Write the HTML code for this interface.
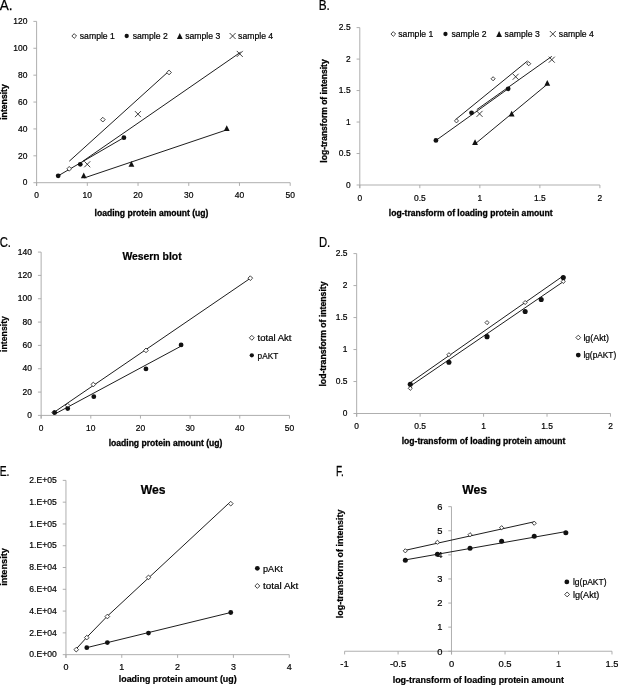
<!DOCTYPE html>
<html lang="en"><head><meta charset="utf-8"><title>Figure</title>
<style>
html,body{margin:0;padding:0;background:#fff;}
svg{display:block;font-family:"Liberation Sans",sans-serif;}
</style></head><body>
<svg width="618" height="685" viewBox="0 0 618 685">
<rect width="618" height="685" fill="#fff"/>
<text transform="translate(-0.30 9.70) scale(0.941 1)" font-size="14.4" fill="#000" stroke="#000" stroke-width="0.25">A.</text>
<line x1="36.60" y1="182.70" x2="290.20" y2="182.70" stroke="#a6a6a6" stroke-width="0.9"/>
<line x1="36.60" y1="185.90" x2="36.60" y2="21.40" stroke="#a6a6a6" stroke-width="0.9"/>
<line x1="36.60" y1="182.70" x2="36.60" y2="185.90" stroke="#a6a6a6" stroke-width="0.9"/>
<text x="36.60" y="198.30" font-size="8.37" text-anchor="middle" fill="#000" stroke="#000" stroke-width="0.2">0</text>
<line x1="87.32" y1="182.70" x2="87.32" y2="185.90" stroke="#a6a6a6" stroke-width="0.9"/>
<text x="87.32" y="198.30" font-size="8.37" text-anchor="middle" textLength="9.43" lengthAdjust="spacingAndGlyphs" fill="#000" stroke="#000" stroke-width="0.2">10</text>
<line x1="138.04" y1="182.70" x2="138.04" y2="185.90" stroke="#a6a6a6" stroke-width="0.9"/>
<text x="138.04" y="198.30" font-size="8.37" text-anchor="middle" textLength="9.43" lengthAdjust="spacingAndGlyphs" fill="#000" stroke="#000" stroke-width="0.2">20</text>
<line x1="188.76" y1="182.70" x2="188.76" y2="185.90" stroke="#a6a6a6" stroke-width="0.9"/>
<text x="188.76" y="198.30" font-size="8.37" text-anchor="middle" textLength="9.43" lengthAdjust="spacingAndGlyphs" fill="#000" stroke="#000" stroke-width="0.2">30</text>
<line x1="239.48" y1="182.70" x2="239.48" y2="185.90" stroke="#a6a6a6" stroke-width="0.9"/>
<text x="239.48" y="198.30" font-size="8.37" text-anchor="middle" textLength="9.43" lengthAdjust="spacingAndGlyphs" fill="#000" stroke="#000" stroke-width="0.2">40</text>
<line x1="290.20" y1="182.70" x2="290.20" y2="185.90" stroke="#a6a6a6" stroke-width="0.9"/>
<text x="290.20" y="198.30" font-size="8.37" text-anchor="middle" textLength="9.43" lengthAdjust="spacingAndGlyphs" fill="#000" stroke="#000" stroke-width="0.2">50</text>
<line x1="33.40" y1="182.70" x2="36.60" y2="182.70" stroke="#a6a6a6" stroke-width="0.9"/>
<text x="27.40" y="185.40" font-size="8.37" text-anchor="end" fill="#000" stroke="#000" stroke-width="0.2">0</text>
<line x1="33.40" y1="155.82" x2="36.60" y2="155.82" stroke="#a6a6a6" stroke-width="0.9"/>
<text x="27.40" y="158.52" font-size="8.37" text-anchor="end" textLength="9.43" lengthAdjust="spacingAndGlyphs" fill="#000" stroke="#000" stroke-width="0.2">20</text>
<line x1="33.40" y1="128.93" x2="36.60" y2="128.93" stroke="#a6a6a6" stroke-width="0.9"/>
<text x="27.40" y="131.63" font-size="8.37" text-anchor="end" textLength="9.43" lengthAdjust="spacingAndGlyphs" fill="#000" stroke="#000" stroke-width="0.2">40</text>
<line x1="33.40" y1="102.05" x2="36.60" y2="102.05" stroke="#a6a6a6" stroke-width="0.9"/>
<text x="27.40" y="104.75" font-size="8.37" text-anchor="end" textLength="9.43" lengthAdjust="spacingAndGlyphs" fill="#000" stroke="#000" stroke-width="0.2">60</text>
<line x1="33.40" y1="75.17" x2="36.60" y2="75.17" stroke="#a6a6a6" stroke-width="0.9"/>
<text x="27.40" y="77.87" font-size="8.37" text-anchor="end" textLength="9.43" lengthAdjust="spacingAndGlyphs" fill="#000" stroke="#000" stroke-width="0.2">80</text>
<line x1="33.40" y1="48.28" x2="36.60" y2="48.28" stroke="#a6a6a6" stroke-width="0.9"/>
<text x="27.40" y="50.98" font-size="8.37" text-anchor="end" textLength="14.14" lengthAdjust="spacingAndGlyphs" fill="#000" stroke="#000" stroke-width="0.2">100</text>
<line x1="33.40" y1="21.40" x2="36.60" y2="21.40" stroke="#a6a6a6" stroke-width="0.9"/>
<text x="27.40" y="24.10" font-size="8.37" text-anchor="end" textLength="14.14" lengthAdjust="spacingAndGlyphs" fill="#000" stroke="#000" stroke-width="0.2">120</text>
<text x="6.60" y="102.00" font-size="8.87" text-anchor="middle" font-weight="bold" transform="rotate(-90 6.60 102.00)" textLength="35.58" lengthAdjust="spacingAndGlyphs" fill="#000" stroke="#000" stroke-width="0.3">intensity</text>
<text x="151.50" y="215.60" font-size="8.78" text-anchor="middle" font-weight="bold" textLength="113.83" lengthAdjust="spacingAndGlyphs" fill="#000" stroke="#000" stroke-width="0.3">loading protein amount (ug)</text>
<path d="M74.20 33.65L76.55 36.00L74.20 38.35L71.85 36.00Z" fill="#fff" stroke="#222" stroke-width="0.85"/>
<text x="79.80" y="39.00" font-size="8.64" textLength="35.08" lengthAdjust="spacingAndGlyphs" fill="#000" stroke="#000" stroke-width="0.2">sample 1</text>
<circle cx="126.70" cy="36.00" r="2.15" fill="#111"/>
<text x="132.70" y="39.00" font-size="8.64" textLength="35.08" lengthAdjust="spacingAndGlyphs" fill="#000" stroke="#000" stroke-width="0.2">sample 2</text>
<path d="M179.80 33.10L182.70 38.90L176.90 38.90Z" fill="#111"/>
<text x="185.20" y="39.00" font-size="8.64" textLength="35.08" lengthAdjust="spacingAndGlyphs" fill="#000" stroke="#000" stroke-width="0.2">sample 3</text>
<path d="M229.60 33.00L235.60 39.00M229.60 39.00L235.60 33.00" fill="none" stroke="#111" stroke-width="0.8"/>
<text x="238.10" y="39.00" font-size="8.64" textLength="35.08" lengthAdjust="spacingAndGlyphs" fill="#000" stroke="#000" stroke-width="0.2">sample 4</text>
<line x1="69.30" y1="161.20" x2="168.30" y2="71.70" stroke="#111" stroke-width="0.95"/>
<line x1="58.20" y1="175.80" x2="123.90" y2="137.60" stroke="#111" stroke-width="0.95"/>
<line x1="84.30" y1="177.90" x2="226.90" y2="129.80" stroke="#111" stroke-width="0.95"/>
<line x1="82.60" y1="161.40" x2="240.60" y2="52.20" stroke="#111" stroke-width="0.95"/>
<path d="M69.22 166.45L71.57 168.80L69.22 171.15L66.87 168.80Z" fill="#fff" stroke="#222" stroke-width="0.85"/>
<path d="M102.83 117.29L105.18 119.64L102.83 121.99L100.48 119.64Z" fill="#fff" stroke="#222" stroke-width="0.85"/>
<path d="M169.05 70.13L171.40 72.48L169.05 74.83L166.70 72.48Z" fill="#fff" stroke="#222" stroke-width="0.85"/>
<circle cx="58.19" cy="175.82" r="2.4" fill="#111"/>
<circle cx="80.26" cy="164.28" r="2.4" fill="#111"/>
<circle cx="123.90" cy="137.70" r="2.4" fill="#111"/>
<path d="M83.77 172.47L86.67 178.27L80.87 178.27Z" fill="#111"/>
<path d="M131.43 160.93L134.33 166.73L128.53 166.73Z" fill="#111"/>
<path d="M226.74 125.32L229.64 131.12L223.84 131.12Z" fill="#111"/>
<path d="M84.28 161.28L90.28 167.28M84.28 167.28L90.28 161.28" fill="none" stroke="#111" stroke-width="0.8"/>
<path d="M134.95 111.12L140.95 117.12M134.95 117.12L140.95 111.12" fill="none" stroke="#111" stroke-width="0.8"/>
<path d="M236.78 50.92L242.78 56.92M236.78 56.92L242.78 50.92" fill="none" stroke="#111" stroke-width="0.8"/>
<text transform="translate(318.70 9.80) scale(0.823 1)" font-size="14.4" fill="#000" stroke="#000" stroke-width="0.25">B.</text>
<line x1="359.80" y1="185.00" x2="599.90" y2="185.00" stroke="#a6a6a6" stroke-width="0.9"/>
<line x1="359.80" y1="188.20" x2="359.80" y2="27.60" stroke="#a6a6a6" stroke-width="0.9"/>
<line x1="359.80" y1="185.00" x2="359.80" y2="188.20" stroke="#a6a6a6" stroke-width="0.9"/>
<text x="359.80" y="200.60" font-size="8.37" text-anchor="middle" fill="#000" stroke="#000" stroke-width="0.2">0</text>
<line x1="419.82" y1="185.00" x2="419.82" y2="188.20" stroke="#a6a6a6" stroke-width="0.9"/>
<text x="419.82" y="200.60" font-size="8.37" text-anchor="middle" textLength="11.77" lengthAdjust="spacingAndGlyphs" fill="#000" stroke="#000" stroke-width="0.2">0.5</text>
<line x1="479.85" y1="185.00" x2="479.85" y2="188.20" stroke="#a6a6a6" stroke-width="0.9"/>
<text x="479.85" y="200.60" font-size="8.37" text-anchor="middle" fill="#000" stroke="#000" stroke-width="0.2">1</text>
<line x1="539.88" y1="185.00" x2="539.88" y2="188.20" stroke="#a6a6a6" stroke-width="0.9"/>
<text x="539.88" y="200.60" font-size="8.37" text-anchor="middle" textLength="11.77" lengthAdjust="spacingAndGlyphs" fill="#000" stroke="#000" stroke-width="0.2">1.5</text>
<line x1="599.90" y1="185.00" x2="599.90" y2="188.20" stroke="#a6a6a6" stroke-width="0.9"/>
<text x="599.90" y="200.60" font-size="8.37" text-anchor="middle" fill="#000" stroke="#000" stroke-width="0.2">2</text>
<line x1="356.60" y1="185.00" x2="359.80" y2="185.00" stroke="#a6a6a6" stroke-width="0.9"/>
<text x="350.60" y="187.70" font-size="8.37" text-anchor="end" fill="#000" stroke="#000" stroke-width="0.2">0</text>
<line x1="356.60" y1="153.52" x2="359.80" y2="153.52" stroke="#a6a6a6" stroke-width="0.9"/>
<text x="350.60" y="156.22" font-size="8.37" text-anchor="end" textLength="11.77" lengthAdjust="spacingAndGlyphs" fill="#000" stroke="#000" stroke-width="0.2">0.5</text>
<line x1="356.60" y1="122.04" x2="359.80" y2="122.04" stroke="#a6a6a6" stroke-width="0.9"/>
<text x="350.60" y="124.74" font-size="8.37" text-anchor="end" fill="#000" stroke="#000" stroke-width="0.2">1</text>
<line x1="356.60" y1="90.56" x2="359.80" y2="90.56" stroke="#a6a6a6" stroke-width="0.9"/>
<text x="350.60" y="93.26" font-size="8.37" text-anchor="end" textLength="11.77" lengthAdjust="spacingAndGlyphs" fill="#000" stroke="#000" stroke-width="0.2">1.5</text>
<line x1="356.60" y1="59.08" x2="359.80" y2="59.08" stroke="#a6a6a6" stroke-width="0.9"/>
<text x="350.60" y="61.78" font-size="8.37" text-anchor="end" fill="#000" stroke="#000" stroke-width="0.2">2</text>
<line x1="356.60" y1="27.60" x2="359.80" y2="27.60" stroke="#a6a6a6" stroke-width="0.9"/>
<text x="350.60" y="30.30" font-size="8.37" text-anchor="end" textLength="11.77" lengthAdjust="spacingAndGlyphs" fill="#000" stroke="#000" stroke-width="0.2">2.5</text>
<text x="326.60" y="111.00" font-size="8.78" text-anchor="middle" font-weight="bold" transform="rotate(-90 326.60 111.00)" textLength="103.26" lengthAdjust="spacingAndGlyphs" fill="#000" stroke="#000" stroke-width="0.3">log-transform of intensity</text>
<text x="470.70" y="215.80" font-size="8.78" text-anchor="middle" font-weight="bold" textLength="163.74" lengthAdjust="spacingAndGlyphs" fill="#000" stroke="#000" stroke-width="0.3">log-transform of loading protein amount</text>
<path d="M393.28 31.65L395.63 34.00L393.28 36.35L390.93 34.00Z" fill="#fff" stroke="#222" stroke-width="0.85"/>
<text x="398.29" y="37.00" font-size="8.64" textLength="35.08" lengthAdjust="spacingAndGlyphs" fill="#000" stroke="#000" stroke-width="0.2">sample 1</text>
<circle cx="445.45" cy="34.00" r="2.15" fill="#111"/>
<text x="451.47" y="37.00" font-size="8.64" textLength="35.08" lengthAdjust="spacingAndGlyphs" fill="#000" stroke="#000" stroke-width="0.2">sample 2</text>
<path d="M499.12 31.10L502.02 36.90L496.22 36.90Z" fill="#111"/>
<text x="504.64" y="37.00" font-size="8.64" textLength="35.08" lengthAdjust="spacingAndGlyphs" fill="#000" stroke="#000" stroke-width="0.2">sample 3</text>
<path d="M549.80 31.00L555.80 37.00M549.80 37.00L555.80 31.00" fill="none" stroke="#111" stroke-width="0.8"/>
<text x="558.82" y="37.00" font-size="8.64" textLength="35.08" lengthAdjust="spacingAndGlyphs" fill="#000" stroke="#000" stroke-width="0.2">sample 4</text>
<line x1="455.80" y1="119.40" x2="527.60" y2="60.90" stroke="#111" stroke-width="0.95"/>
<line x1="435.92" y1="140.46" x2="508.15" y2="88.79" stroke="#111" stroke-width="0.95"/>
<line x1="475.04" y1="143.97" x2="547.28" y2="84.27" stroke="#111" stroke-width="0.95"/>
<line x1="476.80" y1="109.60" x2="551.80" y2="56.40" stroke="#111" stroke-width="0.95"/>
<path d="M456.48 118.84L458.53 120.89L456.48 122.94L454.43 120.89Z" fill="#fff" stroke="#222" stroke-width="0.85"/>
<path d="M493.10 76.71L495.15 78.76L493.10 80.81L491.05 78.76Z" fill="#fff" stroke="#222" stroke-width="0.85"/>
<path d="M528.72 61.66L530.77 63.71L528.72 65.76L526.67 63.71Z" fill="#fff" stroke="#222" stroke-width="0.85"/>
<circle cx="435.92" cy="140.46" r="2.4" fill="#111"/>
<circle cx="471.53" cy="112.87" r="2.4" fill="#111"/>
<circle cx="508.15" cy="88.79" r="2.4" fill="#111"/>
<path d="M475.04 139.26L477.94 145.06L472.14 145.06Z" fill="#111"/>
<path d="M511.66 110.67L514.56 116.47L508.76 116.47Z" fill="#111"/>
<path d="M547.28 80.07L550.18 85.87L544.38 85.87Z" fill="#111"/>
<path d="M476.56 110.87L482.56 116.87M476.56 116.87L482.56 110.87" fill="none" stroke="#111" stroke-width="0.8"/>
<path d="M512.67 73.75L518.67 79.75M512.67 79.75L518.67 73.75" fill="none" stroke="#111" stroke-width="0.8"/>
<path d="M548.79 56.69L554.79 62.69M548.79 62.69L554.79 56.69" fill="none" stroke="#111" stroke-width="0.8"/>
<text transform="translate(-0.30 246.80) scale(0.785 1)" font-size="14.4" fill="#000" stroke="#000" stroke-width="0.25">C.</text>
<line x1="41.13" y1="415.41" x2="289.44" y2="415.41" stroke="#a6a6a6" stroke-width="0.9"/>
<line x1="41.13" y1="418.61" x2="41.13" y2="252.08" stroke="#a6a6a6" stroke-width="0.9"/>
<line x1="41.13" y1="415.41" x2="41.13" y2="418.61" stroke="#a6a6a6" stroke-width="0.9"/>
<text x="41.13" y="431.01" font-size="8.37" text-anchor="middle" fill="#000" stroke="#000" stroke-width="0.2">0</text>
<line x1="90.80" y1="415.41" x2="90.80" y2="418.61" stroke="#a6a6a6" stroke-width="0.9"/>
<text x="90.80" y="431.01" font-size="8.37" text-anchor="middle" textLength="9.43" lengthAdjust="spacingAndGlyphs" fill="#000" stroke="#000" stroke-width="0.2">10</text>
<line x1="140.46" y1="415.41" x2="140.46" y2="418.61" stroke="#a6a6a6" stroke-width="0.9"/>
<text x="140.46" y="431.01" font-size="8.37" text-anchor="middle" textLength="9.43" lengthAdjust="spacingAndGlyphs" fill="#000" stroke="#000" stroke-width="0.2">20</text>
<line x1="190.12" y1="415.41" x2="190.12" y2="418.61" stroke="#a6a6a6" stroke-width="0.9"/>
<text x="190.12" y="431.01" font-size="8.37" text-anchor="middle" textLength="9.43" lengthAdjust="spacingAndGlyphs" fill="#000" stroke="#000" stroke-width="0.2">30</text>
<line x1="239.78" y1="415.41" x2="239.78" y2="418.61" stroke="#a6a6a6" stroke-width="0.9"/>
<text x="239.78" y="431.01" font-size="8.37" text-anchor="middle" textLength="9.43" lengthAdjust="spacingAndGlyphs" fill="#000" stroke="#000" stroke-width="0.2">40</text>
<line x1="289.44" y1="415.41" x2="289.44" y2="418.61" stroke="#a6a6a6" stroke-width="0.9"/>
<text x="289.44" y="431.01" font-size="8.37" text-anchor="middle" textLength="9.43" lengthAdjust="spacingAndGlyphs" fill="#000" stroke="#000" stroke-width="0.2">50</text>
<line x1="37.93" y1="415.41" x2="41.13" y2="415.41" stroke="#a6a6a6" stroke-width="0.9"/>
<text x="31.93" y="418.11" font-size="8.37" text-anchor="end" fill="#000" stroke="#000" stroke-width="0.2">0</text>
<line x1="37.93" y1="392.08" x2="41.13" y2="392.08" stroke="#a6a6a6" stroke-width="0.9"/>
<text x="31.93" y="394.78" font-size="8.37" text-anchor="end" textLength="9.43" lengthAdjust="spacingAndGlyphs" fill="#000" stroke="#000" stroke-width="0.2">20</text>
<line x1="37.93" y1="368.74" x2="41.13" y2="368.74" stroke="#a6a6a6" stroke-width="0.9"/>
<text x="31.93" y="371.44" font-size="8.37" text-anchor="end" textLength="9.43" lengthAdjust="spacingAndGlyphs" fill="#000" stroke="#000" stroke-width="0.2">40</text>
<line x1="37.93" y1="345.41" x2="41.13" y2="345.41" stroke="#a6a6a6" stroke-width="0.9"/>
<text x="31.93" y="348.11" font-size="8.37" text-anchor="end" textLength="9.43" lengthAdjust="spacingAndGlyphs" fill="#000" stroke="#000" stroke-width="0.2">60</text>
<line x1="37.93" y1="322.08" x2="41.13" y2="322.08" stroke="#a6a6a6" stroke-width="0.9"/>
<text x="31.93" y="324.78" font-size="8.37" text-anchor="end" textLength="9.43" lengthAdjust="spacingAndGlyphs" fill="#000" stroke="#000" stroke-width="0.2">80</text>
<line x1="37.93" y1="298.74" x2="41.13" y2="298.74" stroke="#a6a6a6" stroke-width="0.9"/>
<text x="31.93" y="301.44" font-size="8.37" text-anchor="end" textLength="14.14" lengthAdjust="spacingAndGlyphs" fill="#000" stroke="#000" stroke-width="0.2">100</text>
<line x1="37.93" y1="275.41" x2="41.13" y2="275.41" stroke="#a6a6a6" stroke-width="0.9"/>
<text x="31.93" y="278.11" font-size="8.37" text-anchor="end" textLength="14.14" lengthAdjust="spacingAndGlyphs" fill="#000" stroke="#000" stroke-width="0.2">120</text>
<line x1="37.93" y1="252.08" x2="41.13" y2="252.08" stroke="#a6a6a6" stroke-width="0.9"/>
<text x="31.93" y="254.78" font-size="8.37" text-anchor="end" textLength="14.14" lengthAdjust="spacingAndGlyphs" fill="#000" stroke="#000" stroke-width="0.2">140</text>
<text x="7.50" y="333.99" font-size="8.96" text-anchor="middle" font-weight="bold" transform="rotate(-90 7.50 333.99)" textLength="35.94" lengthAdjust="spacingAndGlyphs" fill="#000" stroke="#000" stroke-width="0.22">intensity</text>
<text x="165.54" y="446.11" font-size="8.78" text-anchor="middle" font-weight="bold" textLength="113.83" lengthAdjust="spacingAndGlyphs" fill="#000" stroke="#000" stroke-width="0.3">loading protein amount (ug)</text>
<text x="152.00" y="259.80" font-size="10.53" text-anchor="middle" font-weight="bold" textLength="59.21" lengthAdjust="spacingAndGlyphs" fill="#000" stroke="#000" stroke-width="0.22">Wesern blot</text>
<path d="M251.80 335.35L254.25 337.80L251.80 340.25L249.35 337.80Z" fill="#fff" stroke="#222" stroke-width="0.85"/>
<text x="257.60" y="340.80" font-size="8.78" textLength="33.86" lengthAdjust="spacingAndGlyphs" fill="#000" stroke="#000" stroke-width="0.2">total Akt</text>
<circle cx="251.80" cy="355.30" r="2.15" fill="#111"/>
<text x="257.60" y="358.60" font-size="8.78" textLength="20.58" lengthAdjust="spacingAndGlyphs" fill="#000" stroke="#000" stroke-width="0.2">pAKT</text>
<line x1="54.95" y1="411.70" x2="250.30" y2="278.30" stroke="#111" stroke-width="0.95"/>
<line x1="55.60" y1="413.60" x2="181.10" y2="346.10" stroke="#111" stroke-width="0.95"/>
<path d="M54.18 410.25L56.53 412.60L54.18 414.95L51.83 412.60Z" fill="#fff" stroke="#222" stroke-width="0.85"/>
<path d="M67.72 403.23L70.07 405.58L67.72 407.93L65.37 405.58Z" fill="#fff" stroke="#222" stroke-width="0.85"/>
<path d="M93.30 382.16L95.65 384.51L93.30 386.86L90.95 384.51Z" fill="#fff" stroke="#222" stroke-width="0.85"/>
<path d="M145.97 348.05L148.32 350.40L145.97 352.75L143.62 350.40Z" fill="#fff" stroke="#222" stroke-width="0.85"/>
<path d="M250.31 275.81L252.66 278.16L250.31 280.51L247.96 278.16Z" fill="#fff" stroke="#222" stroke-width="0.85"/>
<circle cx="54.68" cy="412.60" r="2.4" fill="#111"/>
<circle cx="67.72" cy="408.59" r="2.4" fill="#111"/>
<circle cx="93.80" cy="396.70" r="2.4" fill="#111"/>
<circle cx="145.97" cy="368.96" r="2.4" fill="#111"/>
<circle cx="181.09" cy="344.88" r="2.4" fill="#111"/>
<text transform="translate(318.90 246.80) scale(0.785 1)" font-size="14.4" fill="#000" stroke="#000" stroke-width="0.25">D.</text>
<line x1="356.66" y1="413.50" x2="610.48" y2="413.50" stroke="#a6a6a6" stroke-width="0.9"/>
<line x1="356.66" y1="416.70" x2="356.66" y2="253.58" stroke="#a6a6a6" stroke-width="0.9"/>
<line x1="356.66" y1="413.50" x2="356.66" y2="416.70" stroke="#a6a6a6" stroke-width="0.9"/>
<text x="356.66" y="429.10" font-size="8.37" text-anchor="middle" fill="#000" stroke="#000" stroke-width="0.2">0</text>
<line x1="420.11" y1="413.50" x2="420.11" y2="416.70" stroke="#a6a6a6" stroke-width="0.9"/>
<text x="420.11" y="429.10" font-size="8.37" text-anchor="middle" textLength="11.77" lengthAdjust="spacingAndGlyphs" fill="#000" stroke="#000" stroke-width="0.2">0.5</text>
<line x1="483.57" y1="413.50" x2="483.57" y2="416.70" stroke="#a6a6a6" stroke-width="0.9"/>
<text x="483.57" y="429.10" font-size="8.37" text-anchor="middle" fill="#000" stroke="#000" stroke-width="0.2">1</text>
<line x1="547.03" y1="413.50" x2="547.03" y2="416.70" stroke="#a6a6a6" stroke-width="0.9"/>
<text x="547.03" y="429.10" font-size="8.37" text-anchor="middle" textLength="11.77" lengthAdjust="spacingAndGlyphs" fill="#000" stroke="#000" stroke-width="0.2">1.5</text>
<line x1="610.48" y1="413.50" x2="610.48" y2="416.70" stroke="#a6a6a6" stroke-width="0.9"/>
<text x="610.48" y="429.10" font-size="8.37" text-anchor="middle" fill="#000" stroke="#000" stroke-width="0.2">2</text>
<line x1="353.46" y1="413.50" x2="356.66" y2="413.50" stroke="#a6a6a6" stroke-width="0.9"/>
<text x="347.46" y="416.20" font-size="8.37" text-anchor="end" fill="#000" stroke="#000" stroke-width="0.2">0</text>
<line x1="353.46" y1="381.52" x2="356.66" y2="381.52" stroke="#a6a6a6" stroke-width="0.9"/>
<text x="347.46" y="384.22" font-size="8.37" text-anchor="end" textLength="11.77" lengthAdjust="spacingAndGlyphs" fill="#000" stroke="#000" stroke-width="0.2">0.5</text>
<line x1="353.46" y1="349.53" x2="356.66" y2="349.53" stroke="#a6a6a6" stroke-width="0.9"/>
<text x="347.46" y="352.23" font-size="8.37" text-anchor="end" fill="#000" stroke="#000" stroke-width="0.2">1</text>
<line x1="353.46" y1="317.55" x2="356.66" y2="317.55" stroke="#a6a6a6" stroke-width="0.9"/>
<text x="347.46" y="320.25" font-size="8.37" text-anchor="end" textLength="11.77" lengthAdjust="spacingAndGlyphs" fill="#000" stroke="#000" stroke-width="0.2">1.5</text>
<line x1="353.46" y1="285.57" x2="356.66" y2="285.57" stroke="#a6a6a6" stroke-width="0.9"/>
<text x="347.46" y="288.27" font-size="8.37" text-anchor="end" fill="#000" stroke="#000" stroke-width="0.2">2</text>
<line x1="353.46" y1="253.58" x2="356.66" y2="253.58" stroke="#a6a6a6" stroke-width="0.9"/>
<text x="347.46" y="256.28" font-size="8.37" text-anchor="end" textLength="11.77" lengthAdjust="spacingAndGlyphs" fill="#000" stroke="#000" stroke-width="0.2">2.5</text>
<text x="326.20" y="333.99" font-size="8.88" text-anchor="middle" font-weight="bold" transform="rotate(-90 326.20 333.99)" textLength="105.15" lengthAdjust="spacingAndGlyphs" fill="#000" stroke="#000" stroke-width="0.3">lod-transform of intensity</text>
<text x="483.57" y="443.70" font-size="8.78" text-anchor="middle" font-weight="bold" textLength="163.74" lengthAdjust="spacingAndGlyphs" fill="#000" stroke="#000" stroke-width="0.3">log-transform of loading protein amount</text>
<path d="M578.28 335.16L580.68 337.56L578.28 339.96L575.88 337.56Z" fill="#fff" stroke="#222" stroke-width="0.85"/>
<text x="583.40" y="340.76" font-size="8.64" textLength="25.63" lengthAdjust="spacingAndGlyphs" fill="#000" stroke="#000" stroke-width="0.2">lg(Akt)</text>
<circle cx="578.28" cy="355.11" r="2.4" fill="#111"/>
<text x="583.40" y="358.31" font-size="8.64" textLength="32.81" lengthAdjust="spacingAndGlyphs" fill="#000" stroke="#000" stroke-width="0.2">lg(pAKT)</text>
<line x1="411.80" y1="385.10" x2="562.80" y2="282.00" stroke="#111" stroke-width="0.95"/>
<line x1="409.83" y1="383.00" x2="562.83" y2="276.16" stroke="#111" stroke-width="0.95"/>
<path d="M410.28 386.27L412.33 388.32L410.28 390.37L408.23 388.32Z" fill="#fff" stroke="#222" stroke-width="0.85"/>
<path d="M448.91 352.66L450.96 354.71L448.91 356.76L446.86 354.71Z" fill="#fff" stroke="#222" stroke-width="0.85"/>
<path d="M487.03 320.56L489.08 322.61L487.03 324.66L484.98 322.61Z" fill="#fff" stroke="#222" stroke-width="0.85"/>
<path d="M525.15 300.49L527.20 302.54L525.15 304.59L523.10 302.54Z" fill="#fff" stroke="#222" stroke-width="0.85"/>
<path d="M563.28 279.42L565.33 281.47L563.28 283.52L561.23 281.47Z" fill="#fff" stroke="#222" stroke-width="0.85"/>
<circle cx="410.28" cy="384.31" r="2.55" fill="#111"/>
<circle cx="448.91" cy="362.24" r="2.55" fill="#111"/>
<circle cx="487.03" cy="336.65" r="2.55" fill="#111"/>
<circle cx="525.15" cy="311.57" r="2.55" fill="#111"/>
<circle cx="541.21" cy="299.53" r="2.55" fill="#111"/>
<circle cx="563.28" cy="277.46" r="2.55" fill="#111"/>
<text transform="translate(-0.30 475.80) scale(0.713 1)" font-size="14.4" fill="#000" stroke="#000" stroke-width="0.25">E.</text>
<line x1="65.96" y1="654.65" x2="289.24" y2="654.65" stroke="#a6a6a6" stroke-width="0.9"/>
<line x1="65.96" y1="657.85" x2="65.96" y2="480.38" stroke="#a6a6a6" stroke-width="0.9"/>
<line x1="65.96" y1="654.65" x2="65.96" y2="657.85" stroke="#a6a6a6" stroke-width="0.9"/>
<text x="65.96" y="670.25" font-size="8.96" text-anchor="middle" fill="#000" stroke="#000" stroke-width="0.2">0</text>
<line x1="121.78" y1="654.65" x2="121.78" y2="657.85" stroke="#a6a6a6" stroke-width="0.9"/>
<text x="121.78" y="670.25" font-size="8.96" text-anchor="middle" fill="#000" stroke="#000" stroke-width="0.2">1</text>
<line x1="177.60" y1="654.65" x2="177.60" y2="657.85" stroke="#a6a6a6" stroke-width="0.9"/>
<text x="177.60" y="670.25" font-size="8.96" text-anchor="middle" fill="#000" stroke="#000" stroke-width="0.2">2</text>
<line x1="233.42" y1="654.65" x2="233.42" y2="657.85" stroke="#a6a6a6" stroke-width="0.9"/>
<text x="233.42" y="670.25" font-size="8.96" text-anchor="middle" fill="#000" stroke="#000" stroke-width="0.2">3</text>
<line x1="289.24" y1="654.65" x2="289.24" y2="657.85" stroke="#a6a6a6" stroke-width="0.9"/>
<text x="289.24" y="670.25" font-size="8.96" text-anchor="middle" fill="#000" stroke="#000" stroke-width="0.2">4</text>
<line x1="62.76" y1="654.65" x2="65.96" y2="654.65" stroke="#a6a6a6" stroke-width="0.9"/>
<text x="56.76" y="657.35" font-size="8.96" text-anchor="end" textLength="27.46" lengthAdjust="spacingAndGlyphs" fill="#000" stroke="#000" stroke-width="0.2">0.E+00</text>
<line x1="62.76" y1="632.86" x2="65.96" y2="632.86" stroke="#a6a6a6" stroke-width="0.9"/>
<text x="56.76" y="635.56" font-size="8.96" text-anchor="end" textLength="27.46" lengthAdjust="spacingAndGlyphs" fill="#000" stroke="#000" stroke-width="0.2">2.E+04</text>
<line x1="62.76" y1="611.08" x2="65.96" y2="611.08" stroke="#a6a6a6" stroke-width="0.9"/>
<text x="56.76" y="613.78" font-size="8.96" text-anchor="end" textLength="27.46" lengthAdjust="spacingAndGlyphs" fill="#000" stroke="#000" stroke-width="0.2">4.E+04</text>
<line x1="62.76" y1="589.30" x2="65.96" y2="589.30" stroke="#a6a6a6" stroke-width="0.9"/>
<text x="56.76" y="592.00" font-size="8.96" text-anchor="end" textLength="27.46" lengthAdjust="spacingAndGlyphs" fill="#000" stroke="#000" stroke-width="0.2">6.E+04</text>
<line x1="62.76" y1="567.51" x2="65.96" y2="567.51" stroke="#a6a6a6" stroke-width="0.9"/>
<text x="56.76" y="570.21" font-size="8.96" text-anchor="end" textLength="27.46" lengthAdjust="spacingAndGlyphs" fill="#000" stroke="#000" stroke-width="0.2">8.E+04</text>
<line x1="62.76" y1="545.73" x2="65.96" y2="545.73" stroke="#a6a6a6" stroke-width="0.9"/>
<text x="56.76" y="548.43" font-size="8.96" text-anchor="end" textLength="27.46" lengthAdjust="spacingAndGlyphs" fill="#000" stroke="#000" stroke-width="0.2">1.E+05</text>
<line x1="62.76" y1="523.95" x2="65.96" y2="523.95" stroke="#a6a6a6" stroke-width="0.9"/>
<text x="56.76" y="526.65" font-size="8.96" text-anchor="end" textLength="27.46" lengthAdjust="spacingAndGlyphs" fill="#000" stroke="#000" stroke-width="0.2">1.E+05</text>
<line x1="62.76" y1="502.16" x2="65.96" y2="502.16" stroke="#a6a6a6" stroke-width="0.9"/>
<text x="56.76" y="504.86" font-size="8.96" text-anchor="end" textLength="27.46" lengthAdjust="spacingAndGlyphs" fill="#000" stroke="#000" stroke-width="0.2">1.E+05</text>
<line x1="62.76" y1="480.38" x2="65.96" y2="480.38" stroke="#a6a6a6" stroke-width="0.9"/>
<text x="56.76" y="483.08" font-size="8.96" text-anchor="end" textLength="27.46" lengthAdjust="spacingAndGlyphs" fill="#000" stroke="#000" stroke-width="0.2">2.E+05</text>
<text x="7.10" y="567.00" font-size="9.40" text-anchor="middle" font-weight="bold" transform="rotate(-90 7.10 567.00)" textLength="37.75" lengthAdjust="spacingAndGlyphs" fill="#000" stroke="#000" stroke-width="0.22">intensity</text>
<text x="177.70" y="682.00" font-size="9.09" text-anchor="middle" font-weight="bold" textLength="117.92" lengthAdjust="spacingAndGlyphs" fill="#000" stroke="#000" stroke-width="0.22">loading protein amount (ug)</text>
<text x="153.10" y="493.73" font-size="12.60" text-anchor="middle" font-weight="bold" textLength="24.82" lengthAdjust="spacingAndGlyphs" fill="#000" stroke="#000" stroke-width="0.22">Wes</text>
<circle cx="257.34" cy="568.37" r="2.4" fill="#111"/>
<text x="263.05" y="571.67" font-size="9.13" textLength="19.69" lengthAdjust="spacingAndGlyphs" fill="#000" stroke="#000" stroke-width="0.2">pAKt</text>
<path d="M257.34 583.48L259.79 585.93L257.34 588.38L254.89 585.93Z" fill="#fff" stroke="#222" stroke-width="0.85"/>
<text x="263.05" y="589.23" font-size="9.13" textLength="35.25" lengthAdjust="spacingAndGlyphs" fill="#000" stroke="#000" stroke-width="0.2">total Akt</text>
<polyline points="77.00,648.10 86.70,637.40 107.20,616.30 148.00,578.40 229.10,503.00" fill="none" stroke="#111" stroke-width="0.95" stroke-linejoin="round"/>
<line x1="86.78" y1="647.63" x2="230.75" y2="612.51" stroke="#111" stroke-width="0.95"/>
<circle cx="86.78" cy="647.63" r="2.4" fill="#111"/>
<circle cx="107.35" cy="642.61" r="2.4" fill="#111"/>
<circle cx="148.48" cy="633.08" r="2.4" fill="#111"/>
<circle cx="230.75" cy="612.51" r="2.4" fill="#111"/>
<path d="M76.25 647.28L78.60 649.63L76.25 651.98L73.90 649.63Z" fill="#fff" stroke="#222" stroke-width="0.85"/>
<path d="M86.78 635.24L89.13 637.59L86.78 639.94L84.43 637.59Z" fill="#fff" stroke="#222" stroke-width="0.85"/>
<path d="M107.35 614.17L109.70 616.52L107.35 618.87L105.00 616.52Z" fill="#fff" stroke="#222" stroke-width="0.85"/>
<path d="M148.48 575.05L150.83 577.40L148.48 579.75L146.13 577.40Z" fill="#fff" stroke="#222" stroke-width="0.85"/>
<path d="M230.75 501.31L233.10 503.66L230.75 506.01L228.40 503.66Z" fill="#fff" stroke="#222" stroke-width="0.85"/>
<text transform="translate(335.90 475.80) scale(0.696 1)" font-size="14.4" fill="#000" stroke="#000" stroke-width="0.25">F.</text>
<line x1="344.62" y1="651.24" x2="611.99" y2="651.24" stroke="#a6a6a6" stroke-width="0.9"/>
<line x1="451.47" y1="654.44" x2="451.47" y2="506.67" stroke="#a6a6a6" stroke-width="0.9"/>
<line x1="344.62" y1="651.24" x2="344.62" y2="654.44" stroke="#a6a6a6" stroke-width="0.9"/>
<text x="344.62" y="667.34" font-size="9.36" text-anchor="middle" textLength="8.46" lengthAdjust="spacingAndGlyphs" fill="#000" stroke="#000" stroke-width="0.2">-1</text>
<line x1="398.09" y1="651.24" x2="398.09" y2="654.44" stroke="#a6a6a6" stroke-width="0.9"/>
<text x="398.09" y="667.34" font-size="9.36" text-anchor="middle" textLength="16.35" lengthAdjust="spacingAndGlyphs" fill="#000" stroke="#000" stroke-width="0.2">-0.5</text>
<line x1="451.57" y1="651.24" x2="451.57" y2="654.44" stroke="#a6a6a6" stroke-width="0.9"/>
<text x="451.57" y="667.34" font-size="9.36" text-anchor="middle" fill="#000" stroke="#000" stroke-width="0.2">0</text>
<line x1="505.04" y1="651.24" x2="505.04" y2="654.44" stroke="#a6a6a6" stroke-width="0.9"/>
<text x="505.04" y="667.34" font-size="9.36" text-anchor="middle" textLength="13.17" lengthAdjust="spacingAndGlyphs" fill="#000" stroke="#000" stroke-width="0.2">0.5</text>
<line x1="558.51" y1="651.24" x2="558.51" y2="654.44" stroke="#a6a6a6" stroke-width="0.9"/>
<text x="558.51" y="667.34" font-size="9.36" text-anchor="middle" fill="#000" stroke="#000" stroke-width="0.2">1</text>
<line x1="611.99" y1="651.24" x2="611.99" y2="654.44" stroke="#a6a6a6" stroke-width="0.9"/>
<text x="611.99" y="667.34" font-size="9.36" text-anchor="middle" textLength="13.17" lengthAdjust="spacingAndGlyphs" fill="#000" stroke="#000" stroke-width="0.2">1.5</text>
<line x1="448.27" y1="651.24" x2="451.47" y2="651.24" stroke="#a6a6a6" stroke-width="0.9"/>
<text x="442.47" y="654.54" font-size="9.36" text-anchor="end" fill="#000" stroke="#000" stroke-width="0.2">0</text>
<line x1="448.27" y1="627.14" x2="451.47" y2="627.14" stroke="#a6a6a6" stroke-width="0.9"/>
<text x="442.47" y="630.44" font-size="9.36" text-anchor="end" fill="#000" stroke="#000" stroke-width="0.2">1</text>
<line x1="448.27" y1="603.05" x2="451.47" y2="603.05" stroke="#a6a6a6" stroke-width="0.9"/>
<text x="442.47" y="606.35" font-size="9.36" text-anchor="end" fill="#000" stroke="#000" stroke-width="0.2">2</text>
<line x1="448.27" y1="578.95" x2="451.47" y2="578.95" stroke="#a6a6a6" stroke-width="0.9"/>
<text x="442.47" y="582.25" font-size="9.36" text-anchor="end" fill="#000" stroke="#000" stroke-width="0.2">3</text>
<line x1="448.27" y1="554.86" x2="451.47" y2="554.86" stroke="#a6a6a6" stroke-width="0.9"/>
<text x="442.47" y="558.16" font-size="9.36" text-anchor="end" fill="#000" stroke="#000" stroke-width="0.2">4</text>
<line x1="448.27" y1="530.76" x2="451.47" y2="530.76" stroke="#a6a6a6" stroke-width="0.9"/>
<text x="442.47" y="534.06" font-size="9.36" text-anchor="end" fill="#000" stroke="#000" stroke-width="0.2">5</text>
<line x1="448.27" y1="506.67" x2="451.47" y2="506.67" stroke="#a6a6a6" stroke-width="0.9"/>
<text x="442.47" y="509.97" font-size="9.36" text-anchor="end" fill="#000" stroke="#000" stroke-width="0.2">6</text>
<text x="343.11" y="563.90" font-size="9.22" text-anchor="middle" font-weight="bold" transform="rotate(-90 343.11 563.90)" textLength="108.56" lengthAdjust="spacingAndGlyphs" fill="#000" stroke="#000" stroke-width="0.22">log-transform of intensity</text>
<text x="478.30" y="682.60" font-size="9.18" text-anchor="middle" font-weight="bold" textLength="171.29" lengthAdjust="spacingAndGlyphs" fill="#000" stroke="#000" stroke-width="0.22">log-transform of loading protein amount</text>
<text x="474.54" y="494.13" font-size="12.60" text-anchor="middle" font-weight="bold" textLength="24.82" lengthAdjust="spacingAndGlyphs" fill="#000" stroke="#000" stroke-width="0.22">Wes</text>
<circle cx="566.84" cy="581.91" r="2.4" fill="#111"/>
<text x="572.96" y="585.21" font-size="8.87" textLength="33.66" lengthAdjust="spacingAndGlyphs" fill="#000" stroke="#000" stroke-width="0.2">lg(pAKT)</text>
<path d="M567.14 592.00L569.59 594.45L567.14 596.90L564.69 594.45Z" fill="#fff" stroke="#222" stroke-width="0.85"/>
<text x="572.96" y="597.75" font-size="8.87" textLength="26.30" lengthAdjust="spacingAndGlyphs" fill="#000" stroke="#000" stroke-width="0.2">lg(Akt)</text>
<line x1="405.30" y1="559.90" x2="565.80" y2="531.60" stroke="#111" stroke-width="0.95"/>
<line x1="405.30" y1="550.30" x2="534.20" y2="521.80" stroke="#111" stroke-width="0.95"/>
<circle cx="405.32" cy="560.34" r="2.5" fill="#111"/>
<circle cx="437.42" cy="554.32" r="2.5" fill="#111"/>
<circle cx="470.03" cy="548.30" r="2.5" fill="#111"/>
<circle cx="501.63" cy="541.28" r="2.5" fill="#111"/>
<circle cx="534.24" cy="536.26" r="2.5" fill="#111"/>
<circle cx="565.84" cy="532.75" r="2.5" fill="#111"/>
<path d="M405.32 548.71L407.42 550.81L405.32 552.91L403.22 550.81Z" fill="#fff" stroke="#222" stroke-width="0.85"/>
<path d="M437.42 540.18L439.52 542.28L437.42 544.38L435.32 542.28Z" fill="#fff" stroke="#222" stroke-width="0.85"/>
<path d="M470.03 532.66L472.13 534.76L470.03 536.86L467.93 534.76Z" fill="#fff" stroke="#222" stroke-width="0.85"/>
<path d="M501.63 525.64L503.73 527.74L501.63 529.84L499.53 527.74Z" fill="#fff" stroke="#222" stroke-width="0.85"/>
<path d="M534.24 521.12L536.34 523.22L534.24 525.32L532.14 523.22Z" fill="#fff" stroke="#222" stroke-width="0.85"/>
</svg>
</body></html>
